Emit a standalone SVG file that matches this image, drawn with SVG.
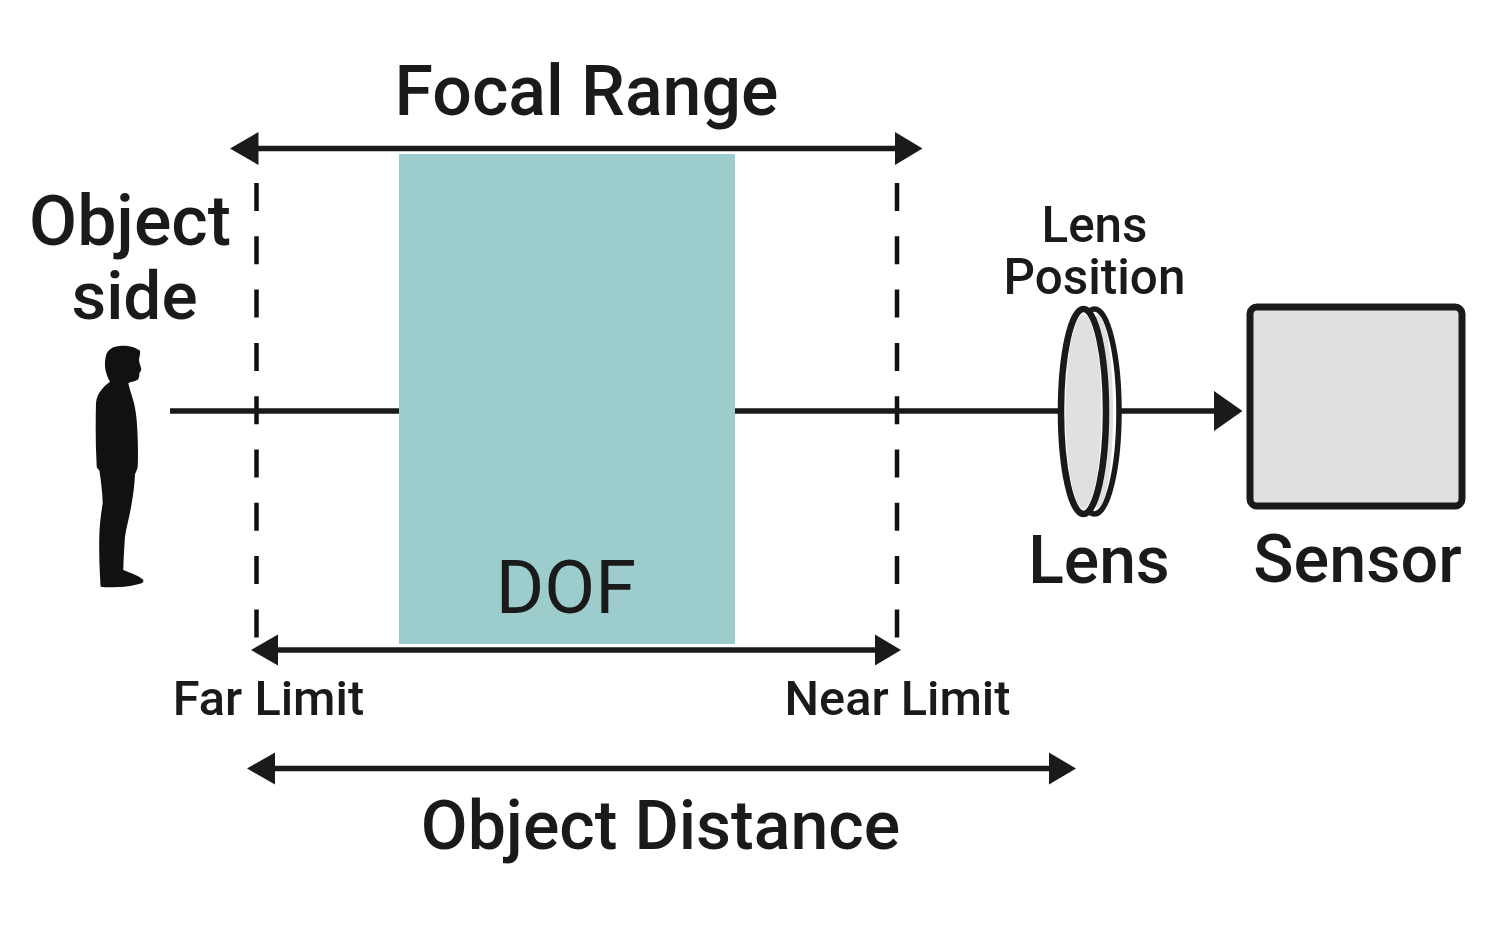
<svg xmlns="http://www.w3.org/2000/svg" width="1500" height="931" viewBox="0 0 1500 931">
<style>
text{font-family:Roboto,"Liberation Sans",sans-serif;fill:#1a1a1a;text-anchor:middle;font-weight:500}
.ln{stroke:#1a1a1a;stroke-width:5.5;fill:none}
.ah{fill:#1a1a1a}
.dash{stroke:#111;stroke-width:4.5;stroke-dasharray:28 25.3;fill:none}
.t64{font-size:66px}
.t50{font-size:48.7px}
.t47{font-size:49.4px}
</style>
<rect width="1500" height="931" fill="#fff"/>
<g id="dof"><rect x="399" y="154" width="336" height="490" fill="#9dcccd"/><text x="566" y="613" font-size="74" style="font-weight:400">DOF</text></g>
<g id="connectors">
<path class="dash" d="M256.5 183V640"/>
<path class="dash" d="M897 183V640"/>
<path class="ln" d="M170 411H399M735 411H1062M1118 411H1216"/>
<polygon class="ah" points="1214,391 1242.5,411 1214,431"/>
<path class="ln" d="M256 148.5H897"/>
<polygon class="ah" points="230,148.5 258.5,132 258.5,165"/>
<polygon class="ah" points="922.5,148.5 895,132 895,165"/>
<path class="ln" d="M276 650H878"/>
<polygon class="ah" points="251,650 278,634.5 278,665.5"/>
<polygon class="ah" points="901,650 875,634.5 875,665.5"/>
<path class="ln" d="M272 768.5H1052"/>
<polygon class="ah" points="247,768.5 275,752.5 275,784.5"/>
<polygon class="ah" points="1076,768.5 1049,752.5 1049,784.5"/>
</g>
<g id="focal-range"><text x="586.5" y="114.500" font-size="69.8">Focal Range</text></g>
<g id="object-side"><text x="130" y="245" font-size="69.800">Object</text><text x="134.500" y="319" font-size="67.500">side</text>
<path fill="#111" d="M121.7 345.7C129 345.5 136 347.5 140 350.7C140.5 354 139.2 357 139 360C139.3 364 141 366.5 141.3 369.3C141 371.5 139.5 372 139.3 374C139.5 377 138.5 379.5 137.3 380C134 381.5 130.5 381.8 128.3 383.3C129.5 389 132 396 134 403C136 412 137 421 137.3 430C138 443 138.2 456 137.7 466.7C137.2 469.5 136 472 135 474C134.5 484 133.5 494 131.7 503C130 515 126.5 526 125 536.7C124.2 548 123.5 559 123.3 570C130 573 139.5 575.5 143.3 580C143.7 581.5 143 582.8 141.7 583.3C134 585.5 126 587 118.3 587C112 587.3 106 587.3 100.7 586.7C100 583 100.5 580 100 576.7C99.3 563 99 550 99.3 536.7C99.500 525 101 514 102.7 503C102.3 491 101 481 99.3 470C98 469.5 97.2 468.2 96.7 466.7C95.500 445 95.500 424 96 403C96.500 398 98 394.5 100 391.7C103 387.5 106.5 384 110 381.7C107.5 377.5 105.5 372 105 366.7C104.8 362 105.3 357.5 106.7 353.3C108.5 350.5 110.5 348.7 113.3 347.3C116 346.2 119 345.8 121.7 345.7Z"/></g>
<g id="lens-position"><text class="t47" x="1094.500" y="241.500">Lens</text><text class="t47" x="1094.500" y="294">Position</text></g>
<g id="lens">
<ellipse cx="1094.500" cy="411.5" rx="24.5" ry="102.5" fill="#fff" stroke="#1a1a1a" stroke-width="5.5"/>
<ellipse cx="1098" cy="411.5" rx="15" ry="96" fill="#dfe0e0"/>
<ellipse cx="1083.5" cy="411.5" rx="22.5" ry="102.5" fill="#fff" stroke="#1a1a1a" stroke-width="6.5"/>
<ellipse cx="1083.5" cy="411.5" rx="18" ry="97" fill="#dfe0e0"/>
<text class="t64" x="1099" y="582.500">Lens</text></g>
<g id="sensor"><rect x="1250" y="307" width="212" height="199" rx="7" fill="#dfe0e0" stroke="#1a1a1a" stroke-width="7"/><text x="1357.500" y="581.500" font-size="66.5">Sensor</text></g>
<g id="far-limit"><text class="t50" x="268.500" y="715">Far Limit</text></g>
<g id="near-limit"><text class="t50" x="897.500" y="715">Near Limit</text></g>
<g id="object-distance"><text x="660.500" y="849" font-size="68">Object Distance</text></g>
</svg>
